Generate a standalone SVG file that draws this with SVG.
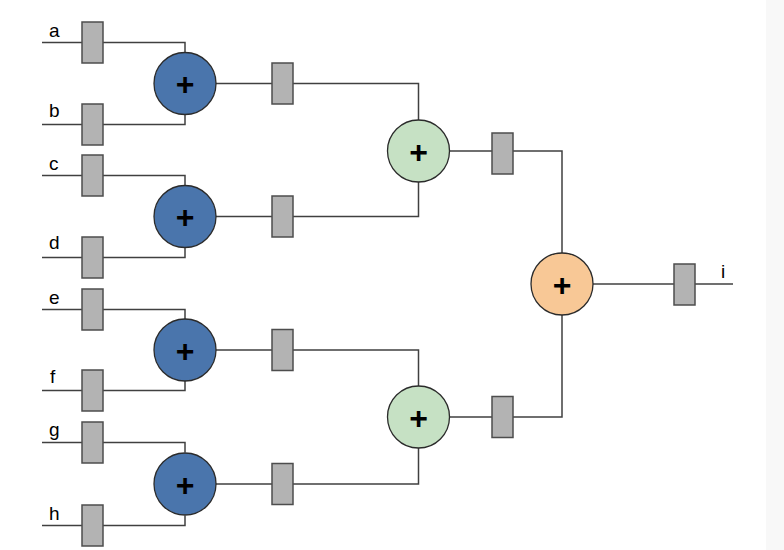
<svg xmlns="http://www.w3.org/2000/svg" width="784" height="550" viewBox="0 0 784 550">
<style>
.w{fill:none;stroke:#404040;stroke-width:1.5}
.reg{fill:#b3b3b3;stroke:#4d4d4d;stroke-width:1.5}
.add{stroke:#2b2b2b;stroke-width:1.3}
.blue{fill:#4a75ac}
.green{fill:#c6e1c4}
.orange{fill:#f8c896}
.lbl{font-family:"Liberation Sans",Arial,sans-serif;font-size:19px;fill:#000}
.plus{font-family:"Liberation Sans",Arial,sans-serif;font-size:32px;font-weight:bold;fill:#000;text-anchor:middle}
</style>
<rect x="0" y="0" width="784" height="550" fill="#ffffff"/>
<rect x="766" y="0" width="18" height="550" fill="#f8f8f8"/>
<g id="connectors">
<path class="w" d="M42 42.5H185V52.5"/>
<path class="w" d="M42 124.5H185V114.5"/>
<path class="w" d="M42 175.5H185V185.5"/>
<path class="w" d="M42 257.5H185V247.5"/>
<path class="w" d="M42 309.5H185V319.5"/>
<path class="w" d="M42 390.5H185V380.5"/>
<path class="w" d="M42 442.5H185V452.5"/>
<path class="w" d="M42 525.5H185V515.5"/>
<path class="w" d="M216 83.5H418.5V120"/>
<path class="w" d="M216 216.5H418.5V182"/>
<path class="w" d="M216 350H418.5V386"/>
<path class="w" d="M216 484H418.5V448"/>
<path class="w" d="M449.5 151H562V253"/>
<path class="w" d="M449.5 417H562V315"/>
<path class="w" d="M593 284H733"/>
</g>
<g id="in_a"><rect class="reg" x="82" y="22" width="21" height="41"/><text class="lbl" x="49" y="37">a</text></g>
<g id="in_b"><rect class="reg" x="82" y="104" width="21" height="41"/><text class="lbl" x="49" y="117">b</text></g>
<g id="in_c"><rect class="reg" x="82" y="155" width="21" height="41"/><text class="lbl" x="49" y="170">c</text></g>
<g id="in_d"><rect class="reg" x="82" y="237" width="21" height="41"/><text class="lbl" x="49" y="249">d</text></g>
<g id="in_e"><rect class="reg" x="82" y="289" width="21" height="41"/><text class="lbl" x="49" y="304">e</text></g>
<g id="in_f"><rect class="reg" x="82" y="370" width="21" height="41"/><text class="lbl" x="50" y="383">f</text></g>
<g id="in_g"><rect class="reg" x="82" y="422" width="21" height="41"/><text class="lbl" x="49" y="436">g</text></g>
<g id="in_h"><rect class="reg" x="82" y="505" width="21" height="41"/><text class="lbl" x="49" y="520">h</text></g>
<g id="add1"><circle class="add blue" cx="185" cy="83.5" r="31"/><text class="plus" x="185" y="95">+</text></g>
<g id="add2"><circle class="add blue" cx="185" cy="216.5" r="31"/><text class="plus" x="185" y="228">+</text></g>
<g id="add3"><circle class="add blue" cx="185" cy="350" r="31"/><text class="plus" x="185" y="361.5">+</text></g>
<g id="add4"><circle class="add blue" cx="185" cy="484" r="31"/><text class="plus" x="185" y="495.5">+</text></g>
<g id="reg1"><rect class="reg" x="272" y="63" width="21" height="41"/></g>
<g id="reg2"><rect class="reg" x="272" y="196" width="21" height="41"/></g>
<g id="reg3"><rect class="reg" x="272" y="329.5" width="21" height="41"/></g>
<g id="reg4"><rect class="reg" x="272" y="463.5" width="21" height="41"/></g>
<g id="add5"><circle class="add green" cx="418.5" cy="151" r="31"/><text class="plus" x="418.5" y="162.5">+</text></g>
<g id="add6"><circle class="add green" cx="418.5" cy="417" r="31"/><text class="plus" x="418.5" y="428.5">+</text></g>
<g id="reg5"><rect class="reg" x="492" y="133" width="21" height="41"/></g>
<g id="reg6"><rect class="reg" x="492" y="396.5" width="21" height="41"/></g>
<g id="add7"><circle class="add orange" cx="562" cy="284" r="31"/><text class="plus" x="562" y="295.5">+</text></g>
<g id="out_i"><rect class="reg" x="674" y="264" width="21" height="41"/><text class="lbl" x="721" y="278">i</text></g>
</svg>
